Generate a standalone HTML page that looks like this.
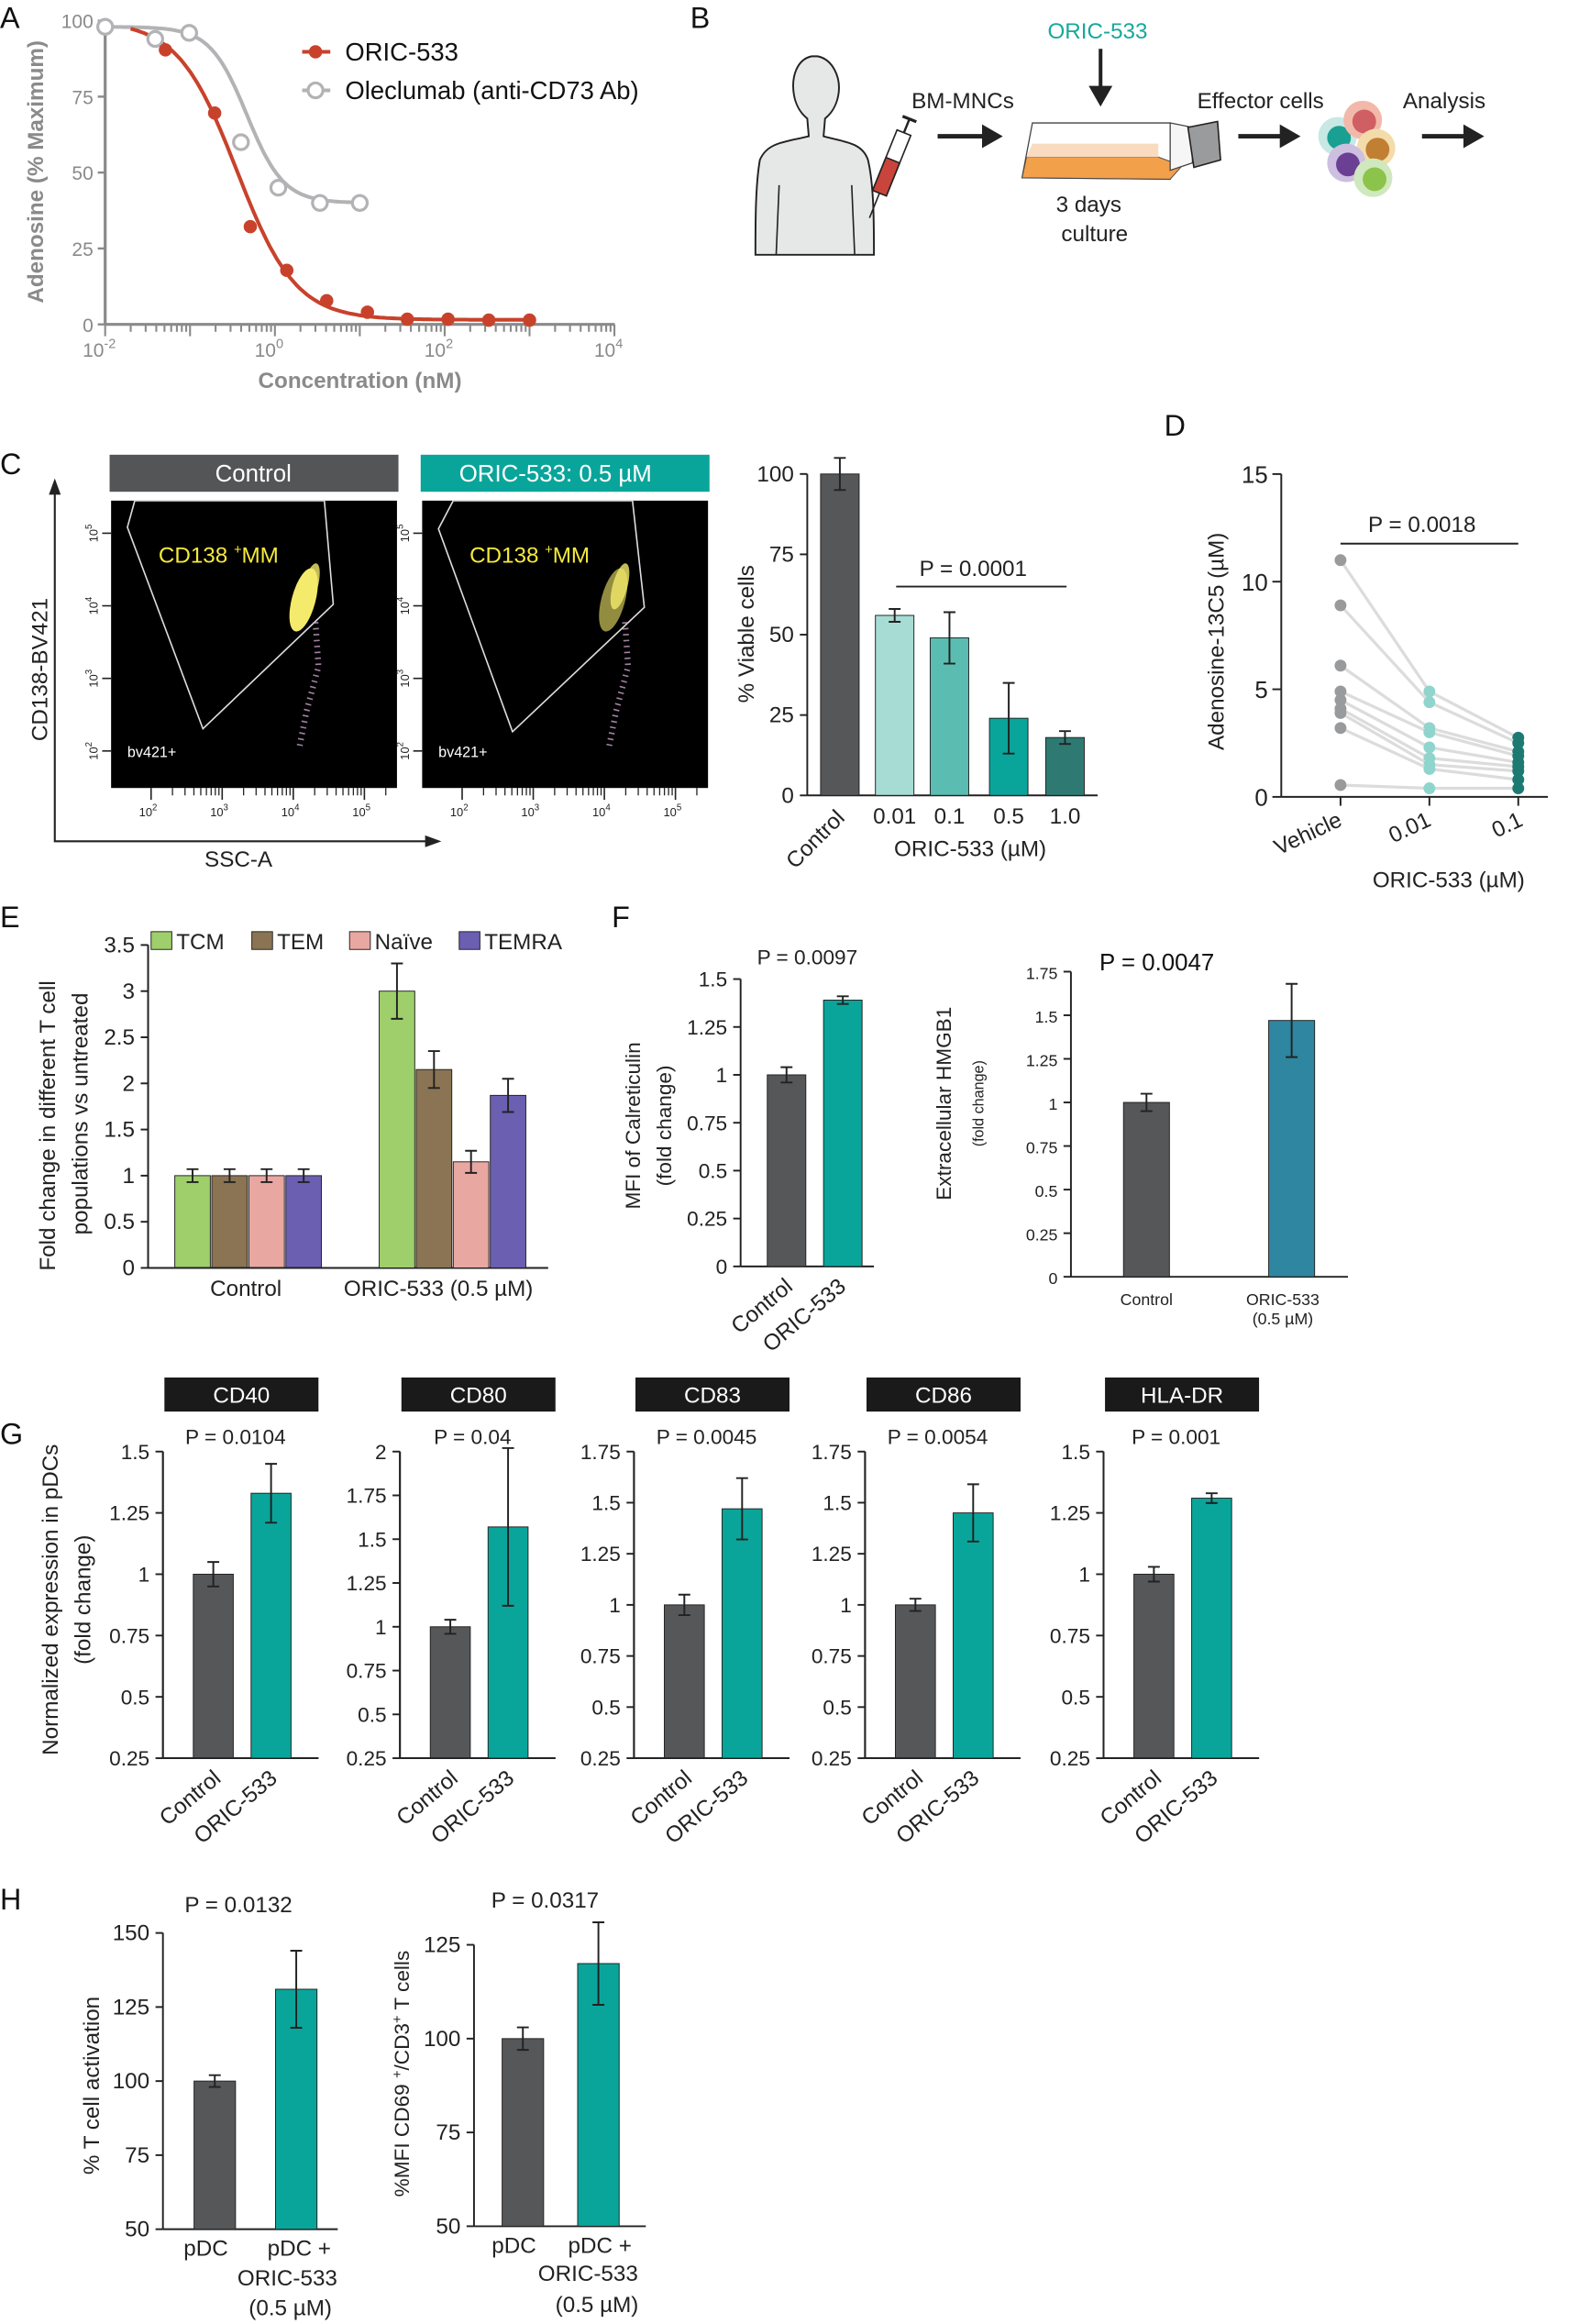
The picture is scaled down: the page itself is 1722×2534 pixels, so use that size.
<!DOCTYPE html>
<html><head><meta charset="utf-8">
<style>
html,body{margin:0;padding:0;background:#fff;}
svg{display:block;font-family:"Liberation Sans",sans-serif;}
text{font-family:"Liberation Sans",sans-serif;}
</style></head>
<body>
<svg id="fig" xmlns="http://www.w3.org/2000/svg" width="1722" height="2534" viewBox="0 0 1066 1569" preserveAspectRatio="none">
<rect x="0" y="0" width="1066" height="1569" fill="#fff"/>
<!-- Panel B schematic -->
<g>
  <path d="M548,38 C538,40 534,52 536,64 C537,70 540,76 545,80 L546,92 C530,96 518,96 513,108 C510,125 510,150 510,172 L590,172 C590,150 590,125 586,108 C582,96 570,96 556,92 L557,80 C562,76 565,70 566,64 C568,52 562,40 552,38 Z" fill="#e6e7e7" stroke="#222" stroke-width="1.2"/>
  <line x1="526" y1="125" x2="524" y2="172" stroke="#222" stroke-width="1"/>
  <line x1="575" y1="125" x2="577" y2="172" stroke="#222" stroke-width="1"/>
  <g transform="translate(602,110) rotate(22)">
    <rect x="-5" y="-22" width="10" height="44" fill="#fff" stroke="#222" stroke-width="1"/>
    <rect x="-5" y="-2" width="10" height="24" fill="#c9443a" stroke="#222" stroke-width="1"/>
    <line x1="0" y1="-22" x2="0" y2="-32" stroke="#222" stroke-width="1.5"/>
    <line x1="-5" y1="-32" x2="5" y2="-32" stroke="#222" stroke-width="2"/>
    <line x1="0" y1="22" x2="0" y2="40" stroke="#222" stroke-width="1"/>
  </g>
  <text x="650" y="73" font-size="15" text-anchor="middle" fill="#222">BM-MNCs</text>
  <text x="741" y="26" font-size="15" text-anchor="middle" fill="#17a89c">ORIC-533</text>
  <line x1="743" y1="33" x2="743" y2="60" stroke="#222" stroke-width="2.5"/>
  <polygon points="735,58 751,58 743,72" fill="#222"/>
  <line x1="633" y1="92" x2="665" y2="92" stroke="#222" stroke-width="3"/>
  <polygon points="663,84 677,92 663,100" fill="#222"/>
  <polygon points="690,120 697,83 790,83 790,121" fill="#fff" stroke="#444" stroke-width="0.8"/>
  <polygon points="690,120 693,106 782,106 798,112 790,121" fill="#f3a04a" stroke="#444" stroke-width="0.6"/>
  <polygon points="693,106 697,97 782,97 782,106" fill="#f9dcbf"/>
  <polygon points="790,83 805,86 805,110 790,115" fill="#f6f6f6" stroke="#444" stroke-width="0.8"/>
  <polygon points="802,86 822,82 824,108 806,113" fill="#9a9b9d" stroke="#222" stroke-width="1"/>
  <text x="735" y="143" font-size="15" text-anchor="middle" fill="#222">3 days</text>
  <text x="739" y="163" font-size="15" text-anchor="middle" fill="#222">culture</text>
  <line x1="836" y1="92" x2="866" y2="92" stroke="#222" stroke-width="3"/>
  <polygon points="864,84 878,92 864,100" fill="#222"/>
  <text x="851" y="73" font-size="15" text-anchor="middle" fill="#222">Effector cells</text>
  <circle cx="903" cy="92" r="13" fill="#c8e8e4"/><circle cx="904" cy="93" r="8" fill="#1a9f93"/>
  <circle cx="920" cy="81" r="13" fill="#f2b9ab"/><circle cx="921" cy="82" r="8" fill="#cf5f63"/>
  <circle cx="929" cy="100" r="13" fill="#f3dcaa"/><circle cx="930" cy="101" r="8" fill="#c17f33"/>
  <circle cx="909" cy="110" r="13" fill="#cdbfe0"/><circle cx="910" cy="111" r="8" fill="#6a3f94"/>
  <circle cx="927" cy="120" r="13" fill="#cfe8bd"/><circle cx="928" cy="121" r="8" fill="#8cc34a"/>
  <text x="975" y="73" font-size="15" text-anchor="middle" fill="#222">Analysis</text>
  <line x1="960" y1="92" x2="990" y2="92" stroke="#222" stroke-width="3"/>
  <polygon points="988,84 1002,92 988,100" fill="#222"/>
</g>
<g id="dyn"></g>
</svg>
<script>
// ---------- DATA ----------
// Panel A
const aOricLogX=[-1.29,-0.71,-0.29,0.14,0.61,1.09,1.56,2.04,2.52,3.0];
const aOricVals=[90.4,69.6,32.2,17.8,7.8,4.0,1.7,1.7,1.4,1.4];
const aOlecLogX=[-2.0,-1.41,-1.01,-0.40,0.04,0.53,1.0];
const aOlecVals=[98,94,96,60,45,40,40];
const aOricFit=[100,1.5,-0.45,1.25]; // top,bottom,logIC50,hill
const aOlecFit=[98,40,-0.33,2.0];
const aYTicks=[0,25,50,75,100];
const aXTicks=[-2,0,2,4];
// Panel C
const cCats=["Control","0.01","0.1","0.5","1.0"];
const cVals=[100,56,49,24,18];
const cErrs=[5,2,8,11,2];
const cTicks=[0,25,50,75,100];
// Panel D
const dCats=["Vehicle","0.01","0.1"];
const dVehicle=[11.0,8.9,6.1,4.9,4.5,4.1,3.9,3.2,0.55];
const dLow=[4.9,4.4,3.2,3.0,2.3,1.8,1.5,1.3,0.4];
const dHigh=[2.75,2.5,2.1,1.9,1.6,1.4,1.2,0.8,0.4];
const dTicks=[0,5,10,15];
// Panel E
const eSeries=["TCM","TEM","Naïve","TEMRA"];
const eControl=[1,1,1,1];
const eControlErr=[0.07,0.07,0.07,0.07];
const eOric=[3.0,2.15,1.15,1.87];
const eOricErr=[0.3,0.2,0.12,0.18];
const eTicks=[0,0.5,1,1.5,2,2.5,3,3.5];
// Panel F
const fCalVals=[1,1.39];
const fCalErrs=[0.04,0.02];
const fCalTicks=[0,0.25,0.5,0.75,1,1.25,1.5];
const fHmgVals=[1,1.47];
const fHmgErrs=[0.05,0.21];
const fHmgTicks=[0,0.25,0.5,0.75,1,1.25,1.5,1.75];
// Panel G
const gMarkers=["CD40","CD80","CD83","CD86","HLA-DR"];
const gPvals=["P = 0.0104","P = 0.04","P = 0.0045","P = 0.0054","P = 0.001"];
const gControl=[1,1,1,1,1];
const gControlErr=[0.05,0.04,0.05,0.03,0.03];
const gOric=[1.33,1.57,1.47,1.45,1.31];
const gOricErr=[0.12,0.45,0.15,0.14,0.02];
const gMax=[1.5,2,1.75,1.75,1.5];
// Panel H
const hActVals=[100,131];
const hActErrs=[2,13];
const hActTicks=[50,75,100,125,150];
const hMfiVals=[100,120];
const hMfiErrs=[3,11];
const hMfiTicks=[50,75,100,125];

// ---------- HELPERS ----------
const NS="http://www.w3.org/2000/svg";
const root=document.getElementById('dyn');
function mk(tag,attrs,parent){const e=document.createElementNS(NS,tag);for(const k in attrs)e.setAttribute(k,attrs[k]);(parent||root).appendChild(e);return e;}
function tx(x,y,s,size,anchor,fill,parent,extra){const t=mk('text',Object.assign({x:x,y:y,'font-size':size,'text-anchor':anchor||'start',fill:fill||'#222'},extra||{}),parent);t.textContent=s;return t;}
function fmt(v){return String(v);}
function gGroup(name){const g=mk('g',{});
return g;}

// generic bar chart
function barChart(name,ax,pyMin,pyMax,vmin,vmax,ticks,xEnd,centers,w,vals,errs,colors,fs){
  const g=gGroup(name);
  const sy=v=>pyMin+(v-vmin)/(vmax-vmin)*(pyMax-pyMin);
  mk('line',{x1:ax,y1:sy(vmax),x2:ax,y2:pyMin,stroke:'#222','stroke-width':1.2},g);
  mk('line',{x1:ax,y1:pyMin,x2:xEnd,y2:pyMin,stroke:'#222','stroke-width':1.2},g);
  ticks.forEach(t=>{
    mk('line',{x1:ax-5,y1:sy(t),x2:ax,y2:sy(t),stroke:'#222','stroke-width':1.2},g);
    const l=tx(ax-9,sy(t)+5,fmt(t),fs||14,'end','#222',g);
    
    
  });
  vals.forEach((v,i)=>{
    const r=mk('rect',{x:centers[i]-w/2,y:sy(v),width:w,height:pyMin-sy(v),fill:colors[i],stroke:'#222','stroke-width':0.6},g);
    
    
    const e=errs[i];
    const el=mk('path',{d:`M${centers[i]},${sy(v+e)}V${sy(v-e)}M${centers[i]-4},${sy(v+e)}H${centers[i]+4}M${centers[i]-4},${sy(v-e)}H${centers[i]+4}`,stroke:'#222','stroke-width':1.2,fill:'none'},g);
    
    
  });
  return {g,sy};
}
function rotLabel(x,y,s,size,angle,parent,anchor){const t=tx(x,y,s,size,anchor||'end','#222',parent,{transform:`rotate(${angle} ${x} ${y})`});return t;}
function panelLetter(x,y,s){const t=tx(x,y,s,20,'start','#111');
}

panelLetter(0,19,"A");panelLetter(466,19,"B");panelLetter(0,320,"C");panelLetter(786,294,"D");
panelLetter(0,626,"E");panelLetter(413,626,"F");panelLetter(0,975,"G");panelLetter(0,1289,"H");

// ---------- PANEL A ----------
(function(){
  const g=gGroup('panel-a-dose-response');
  const sx=l=>71+(l+2)*57.3, sy=v=>219-v*2.05;
  mk('line',{x1:71,y1:sy(100),x2:71,y2:219,stroke:'#8a8a8a','stroke-width':2},g);
  mk('line',{x1:71,y1:219,x2:415,y2:219,stroke:'#8a8a8a','stroke-width':2},g);
  aYTicks.forEach(t=>{mk('line',{x1:66,y1:sy(t),x2:71,y2:sy(t),stroke:'#8a8a8a','stroke-width':1.5},g);
    const l=tx(63,sy(t)+5,fmt(t),13,'end','#8a8a8a',g);
    
    });
  for(let d=-2;d<4;d++){for(let k=1;k<10;k++){const x=sx(d+Math.log10(k));mk('line',{x1:x,y1:219,x2:x,y2:k==1?227:224,stroke:'#8a8a8a','stroke-width':1.3},g);}}
  mk('line',{x1:sx(4),y1:219,x2:sx(4),y2:227,stroke:'#8a8a8a','stroke-width':1.3},g);
  aXTicks.forEach(t=>{const l=mk('text',{x:sx(t)-4,y:241,'font-size':13,'text-anchor':'middle',fill:'#8a8a8a'},g);
    l.innerHTML=`10<tspan dy="-6" font-size="9">${t}</tspan>`;
    
    });
  const xt=tx(243,262,"Concentration (nM)",15,'middle','#8a8a8a',g,{'font-weight':'bold'});
  
  
  const yt=tx(29,116,"Adenosine (% Maximum)",15,'middle','#8a8a8a',g,{'font-weight':'bold',transform:'rotate(-90 29 116)'});
  
  
  function curve(p,l0,l1,col){let d='';for(let i=0;i<=120;i++){const l=l0+(l1-l0)*i/120;const v=p[1]+(p[0]-p[1])/(1+Math.pow(10,p[3]*(l-p[2])));d+=(i?'L':'M')+sx(l).toFixed(1)+','+sy(v).toFixed(1);}
    const c=mk('path',{d:d,fill:'none',stroke:col,'stroke-width':2.5},g);
    
    }
  curve(aOlecFit,-2,1,'#b3b3b6');
  curve(aOricFit,-1.7,3,'#c8422b');
  aOlecLogX.forEach((l,i)=>{const c=mk('circle',{cx:sx(l),cy:sy(aOlecVals[i]),r:5,fill:'#fff',stroke:'#b3b3b6','stroke-width':2},g);
    
    });
  aOricLogX.forEach((l,i)=>{const c=mk('circle',{cx:sx(l),cy:sy(aOricVals[i]),r:4.5,fill:'#c8422b'},g);
    
    });
  mk('line',{x1:204,y1:35,x2:223,y2:35,stroke:'#c8422b','stroke-width':2.5},g);mk('circle',{cx:213,cy:35,r:4.5,fill:'#c8422b'},g);
  const l1=tx(233,41,"ORIC-533",17,'start','#111',g);
  
  
  mk('line',{x1:204,y1:61,x2:223,y2:61,stroke:'#b3b3b6','stroke-width':2.5},g);mk('circle',{cx:213,cy:61,r:5,fill:'#fff',stroke:'#b3b3b6','stroke-width':2},g);
  const l2=tx(233,67,"Oleclumab (anti-CD73 Ab)",17,'start','#111',g);
  
  
})();

// ---------- PANEL C flow ----------
(function(){
  const g=gGroup('panel-c-flow');
  const h1=mk('rect',{x:74,y:307,width:195,height:25,fill:'#545557'},g);
  
  
  tx(171,325,"Control",16,'middle','#fff',g);
  const h2=mk('rect',{x:284,y:307,width:195,height:25,fill:'#0aa59a'},g);
  
  
  tx(375,325,"ORIC-533: 0.5 µM",16,'middle','#fff',g);
  const plots=[{x:75,gate:"91,338 86,356 137,492 225,408 219,338",cx:205,sp:1},{x:285,gate:"306,338 296,357 346,494 435,410 427,338",cx:414,sp:0.6}];
  plots.forEach(p=>{
    const r=mk('rect',{x:p.x,y:338,width:193,height:194,fill:'#000'},g);
    
    
    mk('polygon',{points:p.gate,fill:'none',stroke:'#ddd','stroke-width':1},g);
    mk('ellipse',{cx:p.cx,cy:405,rx:8,ry:22,fill:'#f4ea6b',opacity:p.sp,transform:`rotate(15 ${p.cx} 405)`},g);
    mk('ellipse',{cx:p.cx+2,cy:395,rx:5,ry:16,fill:'#f4ea6b',opacity:0.8,transform:`rotate(15 ${p.cx} 405)`},g);
    mk('path',{d:`M${p.cx+8},420 L${p.cx+10},450 L${p.cx+2},480 L${p.cx-3},505`,stroke:'#c9a3c9','stroke-width':4,'stroke-dasharray':'1 3',fill:'none',opacity:0.8},g);
    const t=mk('text',{x:p.x+32,y:380,'font-size':15,fill:'#f4ea3b'},g);t.innerHTML='CD138 <tspan dy="-6" font-size="9">+</tspan><tspan dy="6">MM</tspan>';
    tx(p.x+11,511,"bv421+",10,'start','#fff',g);
    [0,1,2,3].forEach(i=>{const x=p.x+27+i*48;mk('line',{x1:x,y1:532,x2:x,y2:540,stroke:'#222'},g);
      for(let k=2;k<10;k++){const xx=x+48*Math.log10(k);if(xx<p.x+193)mk('line',{x1:xx,y1:532,x2:xx,y2:537,stroke:'#222','stroke-width':0.8},g);}
      const l=mk('text',{x:x-2,y:551,'font-size':8,'text-anchor':'middle',fill:'#222'},g);l.innerHTML=`10<tspan dy="-4" font-size="6">${i+2}</tspan>`;});
    [0,1,2,3].forEach(i=>{const y=507-i*49;mk('line',{x1:p.x-6,y1:y,x2:p.x,y2:y,stroke:'#222'},g);
      const l=mk('text',{x:p.x-9,y:y,'font-size':8,'text-anchor':'middle',fill:'#222',transform:`rotate(-90 ${p.x-9} ${y})`},g);l.innerHTML=`10<tspan dy="-4" font-size="6">${i+2}</tspan>`;});
  });
  mk('path',{d:'M37,330 V568 H290',fill:'none',stroke:'#222','stroke-width':1.3},g);
  mk('polygon',{points:'33,334 37,323 41,334',fill:'#222'},g);
  mk('polygon',{points:'287,564 298,568 287,572',fill:'#222'},g);
  tx(32,452,"CD138-BV421",15,'middle','#222',g,{transform:'rotate(-90 32 452)'});
  tx(161,585,"SSC-A",15,'middle','#222',g);
})();

// ---------- PANEL C bars ----------
(function(){
  const c=barChart('panel-c-viability',545,537,320,0,100,cTicks,741,[567,604,641,681,719],26,cVals,cErrs,['#565759','#a6dcd4','#5bbdb2','#0aa59a','#2e7a73'],15);
  const g=c.g;
  mk('line',{x1:605,y1:396,x2:720,y2:396,stroke:'#222','stroke-width':1.2},g);
  tx(657,389,"P = 0.0001",15,'middle','#222',g);
  rotLabel(571,553,cCats[0],15,-45,g);
  [604,641,681,719].forEach((x,i)=>tx(x,556,cCats[i+1],15,'middle','#222',g));
  tx(655,578,"ORIC-533 (µM)",15,'middle','#222',g);
  tx(509,428,"% Viable cells",15,'middle','#222',g,{transform:'rotate(-90 509 428)'});
})();

// ---------- PANEL D ----------
(function(){
  const g=gGroup('panel-d-paired');
  const sy=v=>538-v*14.53; const xs=[905,965,1025];
  mk('line',{x1:865,y1:sy(15),x2:865,y2:538,stroke:'#222','stroke-width':1.2},g);
  mk('line',{x1:865,y1:538,x2:1045,y2:538,stroke:'#222','stroke-width':1.2},g);
  xs.forEach(x=>mk('line',{x1:x,y1:538,x2:x,y2:544,stroke:'#222','stroke-width':1.2},g));
  dTicks.forEach(t=>{mk('line',{x1:859,y1:sy(t),x2:865,y2:sy(t),stroke:'#222','stroke-width':1.2},g);tx(856,sy(t)+6,fmt(t),16,'end','#222',g);});
  const cols=['#999a9c','#8fd5cd','#1d7a72'];
  dVehicle.forEach((v,i)=>{const vs=[v,dLow[i],dHigh[i]];
    const pl=mk('polyline',{points:vs.map((u,j)=>xs[j]+','+sy(u)).join(' '),fill:'none',stroke:'#dcdcdc','stroke-width':2},g);
    
    
    vs.forEach((u,j)=>{const c=mk('circle',{cx:xs[j],cy:sy(u),r:4,fill:cols[j]},g);
      
      });});
  mk('line',{x1:905,y1:367,x2:1025,y2:367,stroke:'#222','stroke-width':1.2},g);
  tx(960,359,"P = 0.0018",15,'middle','#222',g);
  rotLabel(907,557,dCats[0],15,-25,g);rotLabel(967,557,dCats[1],15,-25,g);rotLabel(1029,557,dCats[2],15,-25,g);
  tx(978,599,"ORIC-533 (µM)",15,'middle','#222',g);
  tx(826,433,"Adenosine-13C5 (µM)",15,'middle','#222',g,{transform:'rotate(-90 826 433)'});
})();

// ---------- PANEL E ----------
(function(){
  const cols=['#9ecf6b','#8a7453','#e9a7a2','#6b5fb1'];
  const c=barChart('panel-e-tcells',100,856,638,0,3.5,eTicks,370,[130,155,180,205],24,eControl,eControlErr,cols,15);
  const c2=barChart('panel-e-tcells-oric',100,856,638,0,3.5,[],370,[268,293,318,343],24,eOric,eOricErr,cols,15);
  const g=c.g;
  const lx=[102,170,236,310];
  eSeries.forEach((s,i)=>{mk('rect',{x:lx[i],y:629,width:14,height:12,fill:cols[i],stroke:'#222','stroke-width':0.6},g);
    const t=tx(lx[i]+17,641,s,15,'start','#222',g);
    
    });
  tx(166,875,"Control",15,'middle','#222',g);
  tx(296,875,"ORIC-533 (0.5 µM)",15,'middle','#222',g);
  tx(37,760,"Fold change in different T cell",15,'middle','#222',g,{transform:'rotate(-90 37 760)'});
  tx(59,752,"populations vs untreated",15,'middle','#222',g,{transform:'rotate(-90 59 752)'});
})();

// ---------- PANEL F ----------
(function(){
  const c=barChart('panel-f-calreticulin',500,855,661,0,1.5,fCalTicks,590,[531,569],26,fCalVals,fCalErrs,['#565759','#0aa59a'],14);
  const g=c.g;
  tx(545,651,"P = 0.0097",14,'middle','#222',g);
  rotLabel(536,870,"Control",15,-40,g);rotLabel(572,870,"ORIC-533",15,-40,g);
  tx(432,760,"MFI of Calreticulin",14,'middle','#222',g,{transform:'rotate(-90 432 760)'});
  tx(453,760,"(fold change)",14,'middle','#222',g,{transform:'rotate(-90 453 760)'});
  const c2=barChart('panel-f-hmgb1',723,862,656,0,1.75,fHmgTicks,910,[774,872],31,fHmgVals,fHmgErrs,['#565759','#2f86a0'],11);
  const g2=c2.g;
  tx(781,655,"P = 0.0047",16,'middle','#111',g2);
  tx(774,881,"Control",11,'middle','#222',g2);
  tx(866,881,"ORIC-533",11,'middle','#222',g2);
  tx(866,894,"(0.5  µM)",11,'middle','#222',g2);
  tx(642,745,"Extracellular HMGB1",14,'middle','#222',g2,{transform:'rotate(-90 642 745)'});
  tx(664,745,"(fold change)",10,'middle','#222',g2,{transform:'rotate(-90 664 745)'});
})();

// ---------- PANEL G ----------
(function(){
  const axes=[110,270,428,584,745];
  gMarkers.forEach((m,i)=>{
    const ax=axes[i]; const ticks=[];
    for(let t=0.25;t<=gMax[i]+1e-9;t+=0.25)ticks.push(Math.round(t*100)/100);
    const c=barChart('panel-g-'+m.toLowerCase(),ax,1187,980,0.25,gMax[i],ticks.reverse(),ax+105,[ax+34,ax+73],27,[gControl[i]],[gControlErr[i]],['#565759'],14);
    const c2=barChart('panel-g-'+m.toLowerCase()+'-oric',ax,1187,980,0.25,gMax[i],[],ax+105,[ax+73],27,[gOric[i]],[gOricErr[i]],['#0aa59a'],14);
    const g=c.g;
    const hr=mk('rect',{x:ax+1,y:930,width:104,height:23,fill:'#1a1a1a'},g);
    
    
    tx(ax+53,947,m,15,'middle','#fff',g);
    tx(ax+49,975,gPvals[i],14,'middle','#222',g);
    rotLabel(ax+40,1202,"Control",15,-40,g);rotLabel(ax+78,1202,"ORIC-533",15,-40,g);
  });
  const t1=tx(39,1080,"Normalized expression in pDCs",15,'middle','#222',null,{transform:'rotate(-90 39 1080)'});
  const t2=tx(61,1080,"(fold change)",15,'middle','#222',null,{transform:'rotate(-90 61 1080)'});
})();

// ---------- PANEL H ----------
(function(){
  const c=barChart('panel-h-activation',110,1505,1305,50,150,hActTicks,228,[145,200],28,hActVals,hActErrs,['#565759','#0aa59a'],15);
  const g=c.g;
  tx(161,1291,"P = 0.0132",15,'middle','#222',g);
  tx(139,1523,"pDC",15,'middle','#222',g);tx(202,1523,"pDC +",15,'middle','#222',g);
  tx(194,1543,"ORIC-533",15,'middle','#222',g);tx(196,1563,"(0.5 µM)",15,'middle','#222',g);
  tx(67,1408,"% T cell activation",15,'middle','#222',g,{transform:'rotate(-90 67 1408)'});
  const c2=barChart('panel-h-cd69',320,1503,1313,50,125,hMfiTicks,436,[353,404],28,hMfiVals,hMfiErrs,['#565759','#0aa59a'],15);
  const g2=c2.g;
  tx(368,1288,"P = 0.0317",15,'middle','#222',g2);
  tx(347,1521,"pDC",15,'middle','#222',g2);tx(405,1521,"pDC +",15,'middle','#222',g2);
  tx(397,1540,"ORIC-533",15,'middle','#222',g2);tx(403,1561,"(0.5 µM)",15,'middle','#222',g2);
  const yl=mk('text',{x:276,y:1400,'font-size':14,'text-anchor':'middle',fill:'#222',transform:'rotate(-90 276 1400)'},g2);
  yl.innerHTML='%MFI CD69 <tspan dy="-5" font-size="9">+</tspan><tspan dy="5">/CD3</tspan><tspan dy="-5" font-size="9">+</tspan><tspan dy="5"> T cells</tspan>';
})();
</script>
</body></html>
